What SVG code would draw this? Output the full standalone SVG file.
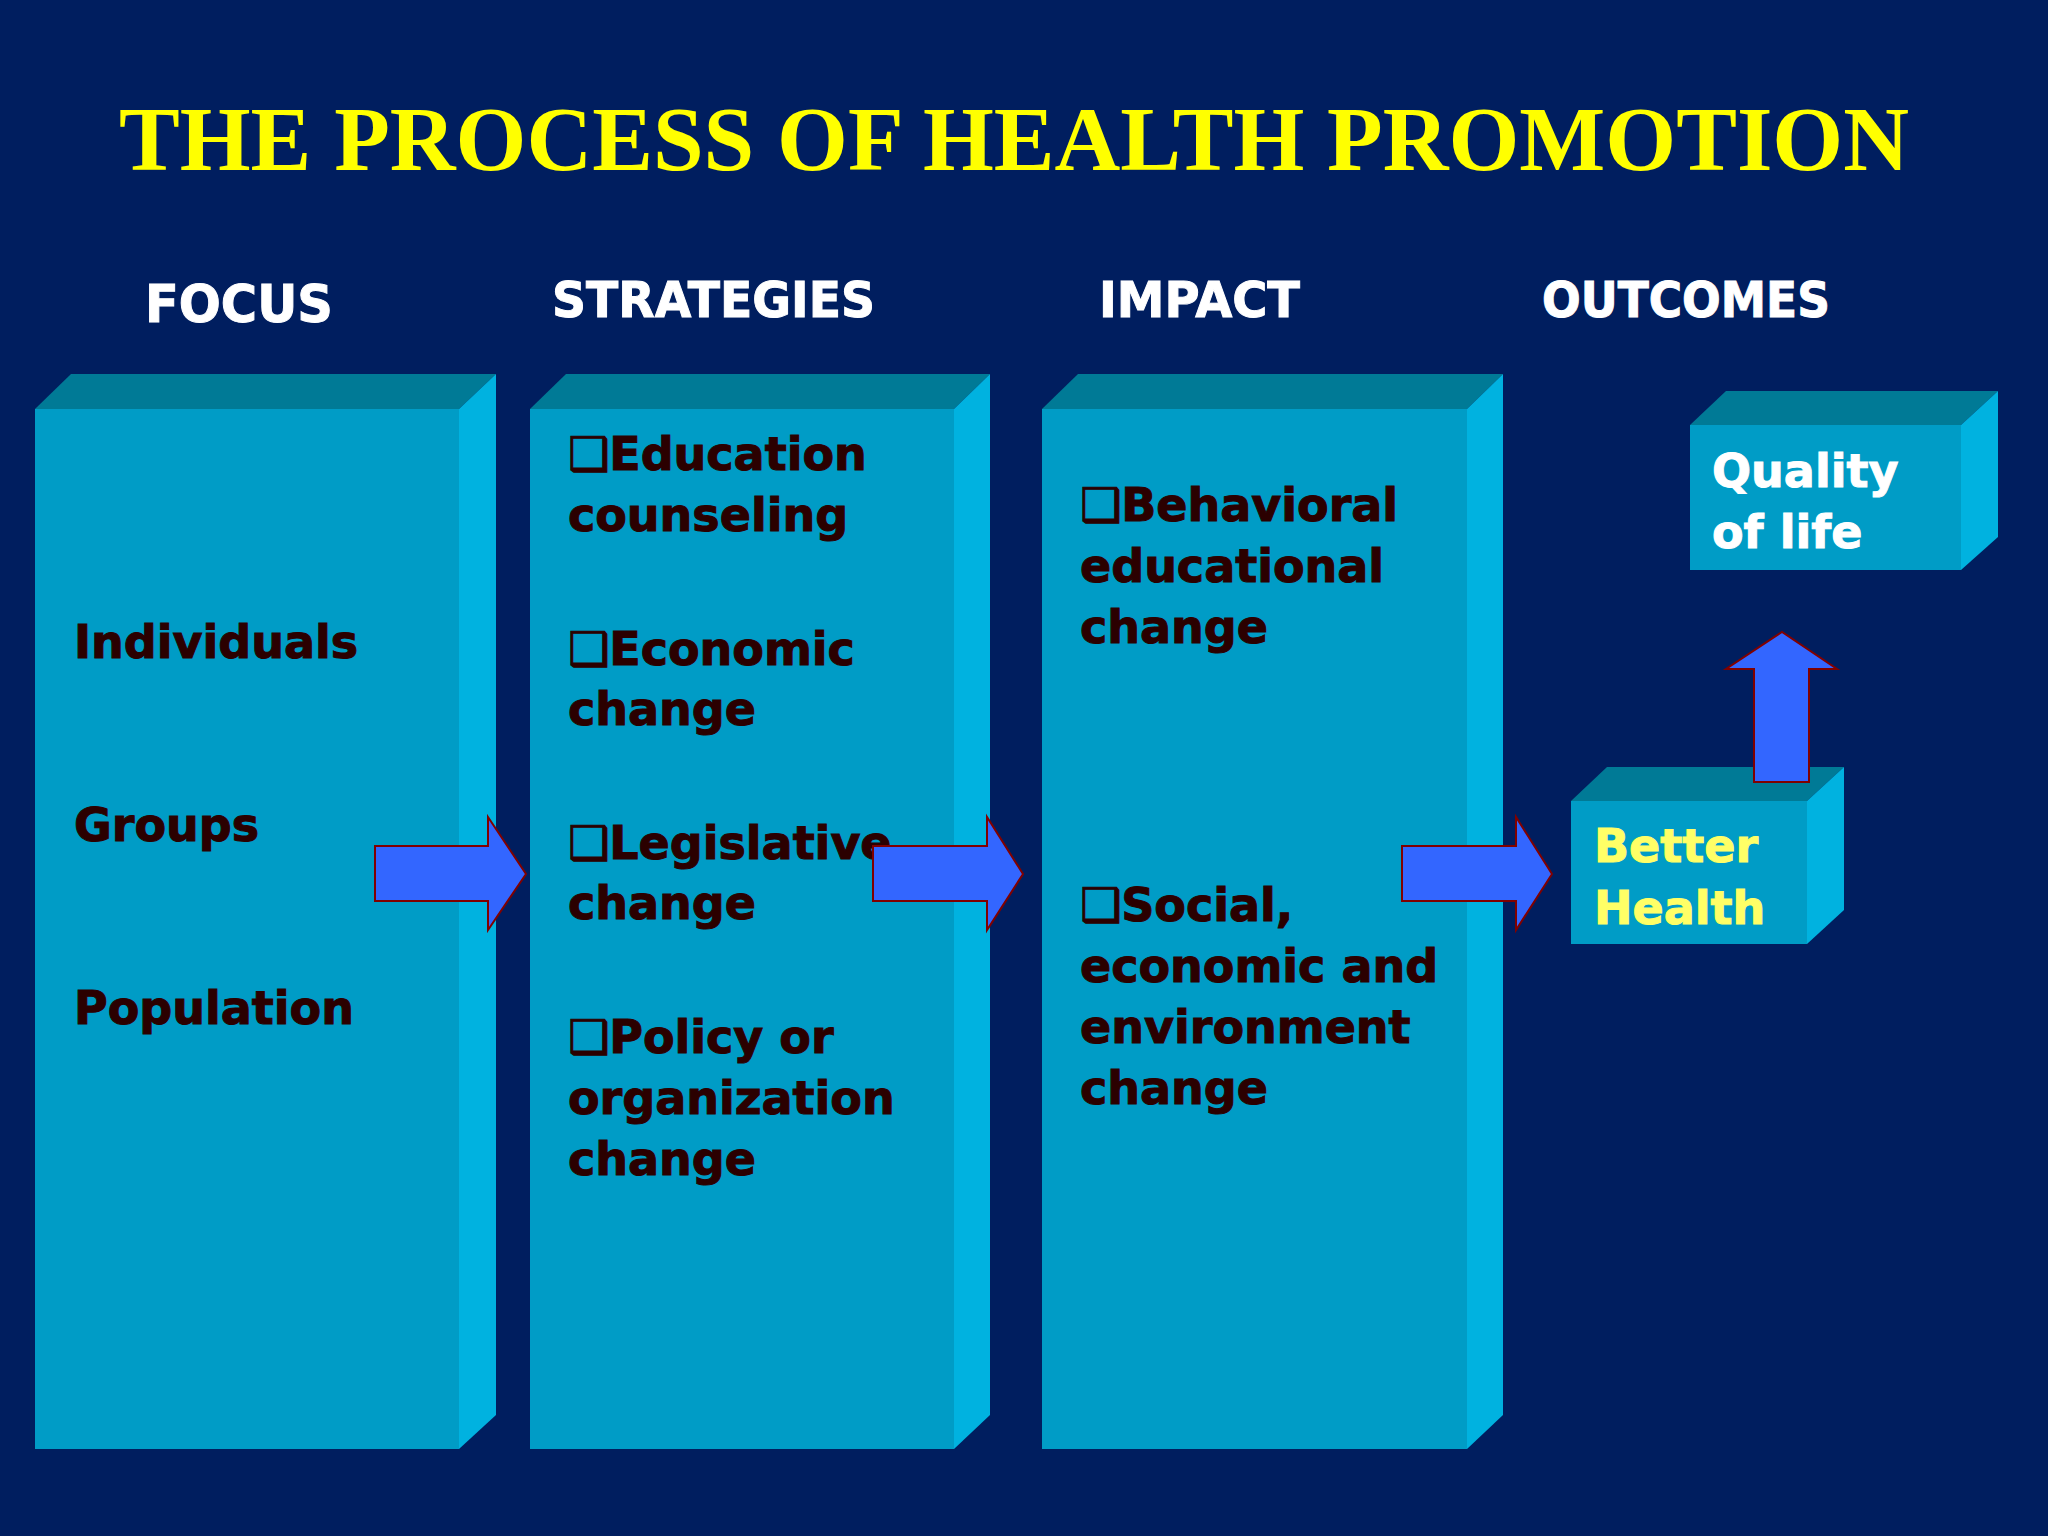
<svg xmlns="http://www.w3.org/2000/svg" width="2048" height="1536" viewBox="0 0 2048 1536">
<style>
.front{fill:#009CC6}
.top{fill:#007A96}
.side{fill:#00B2E0}
.title{font-family:"Liberation Serif","Times New Roman",serif;font-weight:bold;fill:#FFFF00}
.hdr{font-family:"DejaVu Sans",Verdana,sans-serif;font-weight:bold;fill:#FFFFFF;stroke:#FFFFFF;stroke-width:1}
.body{font-family:"DejaVu Sans",Verdana,sans-serif;font-weight:bold;font-size:46px;fill:#2B0000;stroke:#2B0000;stroke-width:1}
.yel{fill:#FFFF66;stroke:#FFFF66}
.wht{fill:#FFFFFF;stroke:#FFFFFF}
.arrow{fill:#3366FF;stroke:#800000;stroke-width:2;stroke-linejoin:miter}
</style>
<rect x="0" y="0" width="2048" height="1536" fill="#001E5F"/>

<g id="title">
<text class="title" x="119" y="170" font-size="91" textLength="1790" lengthAdjust="spacingAndGlyphs">THE PROCESS OF HEALTH PROMOTION</text>
</g>

<g id="headers">
<text class="hdr" x="145" y="322" font-size="52" textLength="188" lengthAdjust="spacingAndGlyphs">FOCUS</text>
<text class="hdr" x="552" y="317" font-size="49" textLength="323" lengthAdjust="spacingAndGlyphs">STRATEGIES</text>
<text class="hdr" x="1099" y="317" font-size="49" textLength="201" lengthAdjust="spacingAndGlyphs">IMPACT</text>
<text class="hdr" x="1542" y="317" font-size="49" textLength="288" lengthAdjust="spacingAndGlyphs">OUTCOMES</text>
</g>

<g id="col-focus">
<polygon class="top" points="35,409 71,374 496,374 459,409"/>
<polygon class="side" points="459,409 496,374 496,1415 459,1449"/>
<rect class="front" x="35" y="409" width="424" height="1040"/>
<text class="body" x="74" y="658">Individuals</text>
<text class="body" x="74" y="841">Groups</text>
<text class="body" x="74" y="1024">Population</text>
</g>

<g id="col-strategies">
<polygon class="top" points="530,409 566,374 990,374 954,409"/>
<polygon class="side" points="954,409 990,374 990,1415 954,1449"/>
<rect class="front" x="530" y="409" width="424" height="1040"/>
<text class="body" x="568" y="470">❑Education</text>
<text class="body" x="568" y="531">counseling</text>
<text class="body" x="568" y="665">❑Economic</text>
<text class="body" x="568" y="725">change</text>
<text class="body" x="568" y="859">❑Legislative</text>
<text class="body" x="568" y="919">change</text>
<text class="body" x="568" y="1053">❑Policy or</text>
<text class="body" x="568" y="1114">organization</text>
<text class="body" x="568" y="1175">change</text>
</g>

<g id="col-impact">
<polygon class="top" points="1042,409 1078,374 1503,374 1467,409"/>
<polygon class="side" points="1467,409 1503,374 1503,1415 1467,1449"/>
<rect class="front" x="1042" y="409" width="425" height="1040"/>
<text class="body" x="1080" y="521">❑Behavioral</text>
<text class="body" x="1080" y="582">educational</text>
<text class="body" x="1080" y="643">change</text>
<text class="body" x="1080" y="921">❑Social,</text>
<text class="body" x="1080" y="982">economic and</text>
<text class="body" x="1080" y="1043">environment</text>
<text class="body" x="1080" y="1104">change</text>
</g>

<g id="box-better-health">
<polygon class="top" points="1571,801 1607,767 1844,767 1807,801"/>
<polygon class="side" points="1807,801 1844,767 1844,910 1807,944"/>
<rect class="front" x="1571" y="801" width="236" height="143"/>
<text class="body yel" x="1594" y="862">Better</text>
<text class="body yel" x="1594" y="924">Health</text>
</g>

<g id="box-quality">
<polygon class="top" points="1690,425 1726,391 1998,391 1961,425"/>
<polygon class="side" points="1961,425 1998,391 1998,537 1961,570"/>
<rect class="front" x="1690" y="425" width="271" height="145"/>
<text class="body wht" x="1712" y="487">Quality</text>
<text class="body wht" x="1712" y="548">of life</text>
</g>

<g id="connectors">
<polygon class="arrow" points="375,846 488,846 488,817 526,874 488,930 488,901 375,901"/>
<polygon class="arrow" points="873,846 987,846 987,817 1023,874 987,930 987,901 873,901"/>
<polygon class="arrow" points="1402,846 1516,846 1516,817 1552,874 1516,930 1516,901 1402,901"/>
<polygon class="arrow" points="1754,782 1754,669 1726,669 1782,632 1837,669 1809,669 1809,782"/>
</g>
</svg>
